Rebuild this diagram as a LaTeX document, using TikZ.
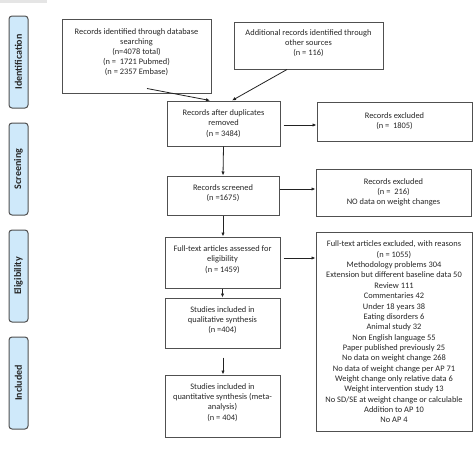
\documentclass[tikz,border=0pt]{standalone}
\usepackage{fontspec}
\setmainfont{Carlito}
\usetikzlibrary{arrows.meta,calc}
\definecolor{boxline}{HTML}{505050}
\definecolor{sidefill}{HTML}{CFE9FA}
\definecolor{arrowcol}{HTML}{222222}
\tikzset{
  flowbox/.style={draw=boxline, line width=1pt, rectangle, align=center,
    inner sep=0pt, font=\fontsize{8.4}{10.3}\selectfont, text=black!85},
  sidebox/.style={draw=boxline, line width=1pt, fill=sidefill, rounded corners=3pt,
    minimum width=19pt, minimum height=92pt, inner sep=0pt},
  sidetext/.style={rotate=90, font=\fontsize{10}{11}\selectfont\bfseries, text=black!85},
  flowarrow/.style={draw=arrowcol, line width=0.8pt, -{Latex[length=4pt,width=3.4pt]}}
}
\begin{document}
\begin{tikzpicture}[x=1pt,y=-1pt]
\useasboundingbox (0,0) rectangle (474,474);
\fill[black!10] (0,0) rectangle (47,3);
% side labels
\node[sidebox] (s1) at (18.5,62) {};
\node[sidetext] (t1) at (s1.center) {Identification};
\node[sidebox] (s2) at (18.5,169) {};
\node[sidetext] (t2) at (s2.center) {Screening};
\node[sidebox] (s3) at (18.5,276) {};
\node[sidetext] (t3) at (s3.center) {Eligibility};
\node[sidebox] (s4) at (18.5,383) {};
\node[sidetext] (t4) at (s4.center) {Included};
% boxes
\node[flowbox, minimum width=149pt, minimum height=74pt] (A) at (136.5,56) {};
\node[flowbox, draw=none, font=\fontsize{8.4}{10.1}\selectfont] (At) at (136.5,52) {Records identified through database\\searching\\(n=4078 total)\\(n =\ \ 1721 Pubmed)\\(n = 2357 Embase)};
\node[flowbox, minimum width=149pt, minimum height=47pt] (B) at (308.5,45.5) {};
\node[flowbox, draw=none] (Bt) at (308.5,43) {Additional records identified through\\other sources\\(n = 116)};
\node[flowbox, minimum width=113pt, minimum height=45pt] (C) at (223.5,123.5) {Records after duplicates\\removed\\(n = 3484)};
\node[flowbox, minimum width=155pt, minimum height=39pt] (D) at (394.5,121.5) {Records excluded\\(n =\ \ 1805)};
\node[flowbox, minimum width=112pt, minimum height=39pt] (E) at (223,195.5) {};
\node[flowbox, draw=none] (Et) at (223,193) {Records screened\\(n =1675)};
\node[flowbox, minimum width=155pt, minimum height=47pt] (F) at (393.5,192.5) {Records excluded\\(n =\ \ 216)\\NO data on weight changes};
\node[flowbox, minimum width=115pt, minimum height=51pt] (G) at (222.5,262.5) {};
\node[flowbox, draw=none] (Gt) at (222.5,259.5) {Full-text articles assessed for\\eligibility\\(n = 1459)};
\node[flowbox, minimum width=156pt, minimum height=199pt] (H) at (394,331.5) {};
\node[flowbox, draw=none, font=\fontsize{8.4}{10.35}\selectfont] (Ht) at (394,332) {Full-text articles excluded, with reasons\\(n = 1055)\\Methodology problems 304\\Extension but different baseline data 50\\Review 111\\Commentaries 42\\Under 18 years 38\\Eating disorders 6\\Animal study 32\\Non English language 55\\Paper published previously 25\\No data on weight change 268\\No data of weight change per AP 71\\Weight change only relative data 6\\Weight intervention study 13\\No SD/SE at weight change or calculable\\Addition to AP 10\\No AP 4};
\node[flowbox, minimum width=115pt, minimum height=50pt] (I) at (222.5,323) {};
\node[flowbox, draw=none] (It) at (222.5,320) {Studies included in\\qualitative synthesis\\(n =404)};
\node[flowbox, minimum width=115pt, minimum height=62pt] (J) at (222.5,406) {};
\node[flowbox, draw=none] (Jt) at (222.5,402.5) {Studies included in\\quantitative synthesis (meta-\\analysis)\\(n = 404)};
% arrow end points
\coordinate (a1) at ($(A.south)+(10.5,-5)$);
\coordinate (c1) at ($(C.north)+(-13.5,0)$);
\coordinate (b1) at ($(B.south)+(-21.5,0)$);
\coordinate (c2) at ($(C.north)+(8.5,0)$);
\coordinate (c3) at ($(C.east)+(3,1.5)$);
\coordinate (e3) at ($(E.east)+(0,-6.5)$);
\coordinate (g3) at ($(G.east)+(3,-4.5)$);
\coordinate (i3) at ($(I.south)+(0.5,9)$);
% arrows
\draw[flowarrow] (a1) -- (c1);
\draw[flowarrow] (b1) -- (c2);
\draw[flowarrow] (c3) -- (c3 -| D.west);
\draw[flowarrow] (C.south) -- (E.north);
\draw[flowarrow] (e3) -- (e3 -| F.west);
\draw[flowarrow] (E.south) -- (E.south |- G.north);
\draw[flowarrow] (g3) -- (g3 -| H.west);
\draw[flowarrow] (G.south) -- (I.north);
\draw[flowarrow] (i3) -- (i3 |- J.north);
\end{tikzpicture}
\end{document}
